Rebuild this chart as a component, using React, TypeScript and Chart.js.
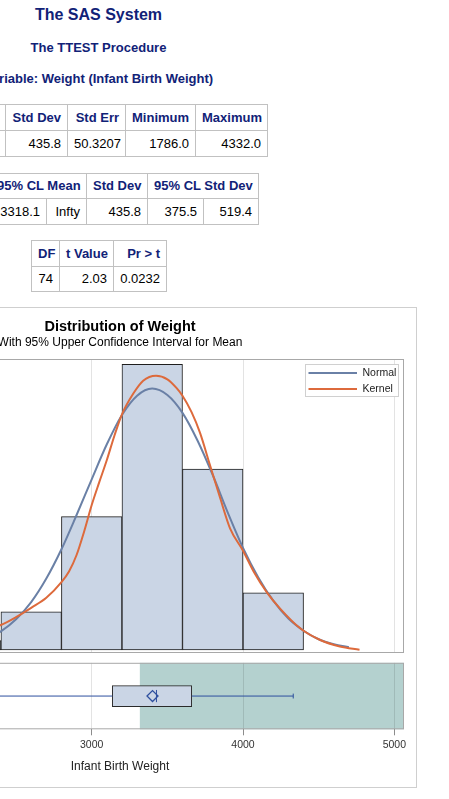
import React, { useEffect, useRef } from "react";
import { Chart, registerables } from "chart.js";

Chart.register(...registerables);

// ---------------- data ----------------
const BIN_MIDPOINTS = [1800, 2200, 2600, 3000, 3400, 3800, 4200];
const BIN_PERCENTS = [1.33, 1.33, 5.33, 18.67, 40.0, 25.33, 8.0];

const NORMAL_X = [2100, 2200, 2300, 2400, 2500, 2600, 2700, 2800, 2900, 3000, 3100, 3200, 3300, 3400, 3500, 3600, 3700, 3800, 3900, 4000, 4100, 4200, 4300, 4400, 4500, 4600, 4700];
const NORMAL_Y = [0.42, 0.82, 1.5, 2.6, 4.3, 6.7, 10.0, 14.1, 18.9, 23.9, 28.8, 32.9, 35.6, 36.6, 35.7, 33.2, 29.3, 24.5, 19.2, 14.3, 10.2, 6.9, 4.4, 2.7, 1.5, 0.8, 0.4];

const KERNEL_X = [1600, 1800, 2000, 2200, 2300, 2400, 2500, 2600, 2700, 2800, 2850, 2900, 2950, 3000, 3050, 3100, 3150, 3200, 3275, 3340, 3425, 3500, 3560, 3600, 3660, 3716, 3780, 3850, 3915, 4000, 4070, 4160, 4245, 4380, 4510, 4640, 4770];
const KERNEL_Y = [0.3, 0.8, 1.5, 2.4, 2.9, 3.5, 4.6, 5.9, 7.3, 9.5, 11.0, 13.3, 16.6, 20.3, 23.5, 26.6, 30.0, 33.0, 35.9, 37.7, 38.4, 37.9, 36.7, 35.6, 33.3, 30.4, 26.0, 21.2, 17.0, 13.9, 11.0, 8.0, 5.8, 3.0, 1.4, 0.5, 0.05];

const BOX_MIN = 1786;
const BOX_Q1 = 3136;
const BOX_MEDIAN = 3428;
const BOX_Q3 = 3661;
const BOX_MAX = 4332;
const BOX_MEAN = 3401.9;
const CL_LOWER = 3318.1;

const X_MIN = 1310;
const X_MAX = 5064;
const X_TICKS = [2000, 3000, 4000, 5000];
const X_TICK_LABELS = ["2000", "3000", "4000", "5000"];
const Y_MIN = -0.42;
const Y_MAX = 40.74;

// tables
const T1_X = [-10, 5, 67, 125, 195, 267];
const T1_Y = [104, 130, 156];
const T1_HEAD = ["", "Std Dev", "Std Err", "Minimum", "Maximum"];
const T1_ROW = ["", "435.8", "50.3207", "1786.0", "4332.0"];

const T2_X = [-10, 46, 86, 147, 203, 258];
const T2_Y = [173, 198, 224];
const T2_HEAD = ["95% CL Mean", "Std Dev", "95% CL Std Dev"];
const T2_HEAD_SPAN = [2, 1, 2];
const T2_ROW = ["3318.1", "Infty", "435.8", "375.5", "519.4"];

const T3_X = [31, 59, 113, 166];
const T3_Y = [240, 266, 291];
const T3_HEAD = ["DF", "t Value", "Pr > t"];
const T3_ROW = ["74", "2.03", "0.0232"];

// ---------------- styles ----------------
const FONT = 'Arial, "Liberation Sans", Helvetica, sans-serif';
const TITLE_BLUE = "#112277";
const TABLE_BORDER = "#C1C1C1";
const BAR_FILL = "#CAD5E5";
const NORMAL_COLOR = "#6A80A6";
const KERNEL_COLOR = "#DD6A3C";
const WHISKER_BLUE = "#2D4F9E";
const TEAL = "#B4D1CF";
const PANEL_BORDER = "#A8A8A8";
const GRID = "rgba(0,0,0,0.11)";
const BOX_HALF = 0.275;
const CAP_HALF = 0.11;

const setTicks = (scale: any) => {
  scale.ticks = X_TICKS.map((v) => ({ value: v }));
};

const panelBorder = {
  id: "panelBorder",
  afterDraw(chart: any) {
    const { ctx, chartArea: a } = chart;
    ctx.save();
    ctx.strokeStyle = PANEL_BORDER;
    ctx.lineWidth = 1;
    ctx.strokeRect(a.left + 0.5, a.top + 0.5, a.right - a.left - 1, a.bottom - a.top - 1);
    ctx.restore();
  },
};

const legendBox = {
  id: "legendBox",
  afterDraw(chart: any) {
    const { ctx, chartArea: a } = chart;
    const items = chart.data.datasets.filter((d: any) => d.type === "line");
    const left = a.right - 99;
    const top = a.top + 5;
    ctx.save();
    ctx.fillStyle = "#FFFFFF";
    ctx.fillRect(left, top, 94, 33);
    ctx.strokeStyle = "#D0D0D0";
    ctx.lineWidth = 1;
    ctx.strokeRect(left + 0.5, top + 0.5, 93, 32);
    ctx.font = `10.5px ${FONT}`;
    ctx.textBaseline = "middle";
    ctx.textAlign = "left";
    items.forEach((d: any, i: number) => {
      const y = top + 9 + i * 16;
      ctx.strokeStyle = d.borderColor;
      ctx.lineWidth = 2;
      ctx.beginPath();
      ctx.moveTo(left + 3.5, y);
      ctx.lineTo(left + 52, y);
      ctx.stroke();
      ctx.fillStyle = "#222";
      ctx.fillText(d.label, left + 57.5, y + 0.5);
    });
    ctx.restore();
  },
};

const clBand = {
  id: "clBand",
  beforeDraw(chart: any) {
    const { ctx, chartArea: a, scales } = chart;
    const x0 = scales.x.getPixelForValue(CL_LOWER);
    ctx.save();
    ctx.fillStyle = TEAL;
    ctx.fillRect(x0, a.top, a.right - x0, a.bottom - a.top);
    ctx.restore();
  },
};

function Cell(props: { x1: number; x2: number; y1: number; y2: number; text: string; header?: boolean; align?: any }) {
  const { x1, x2, y1, y2, text, header, align } = props;
  return (
    <div
      style={{
        position: "absolute",
        left: x1,
        top: y1,
        width: x2 - x1 + 1,
        height: y2 - y1 + 1,
        boxSizing: "border-box",
        border: `1px solid ${TABLE_BORDER}`,
        fontFamily: FONT,
        fontSize: 13,
        fontWeight: header ? "bold" : "normal",
        color: header ? TITLE_BLUE : "#000",
        textAlign: align || "right",
        lineHeight: `${y2 - y1 - 1}px`,
        padding: "0 6px",
        whiteSpace: "nowrap",
        background: "#fff",
      }}
    >
      {text}
    </div>
  );
}

function SimpleTable(props: { xs: number[]; ys: number[]; head: string[]; row: string[] }) {
  const { xs, ys, head, row } = props;
  return (
    <>
      {head.map((t, i) => (
        <Cell key={"h" + i} x1={xs[i]} x2={xs[i + 1]} y1={ys[0]} y2={ys[1]} text={t} header />
      ))}
      {row.map((t, i) => (
        <Cell key={"r" + i} x1={xs[i]} x2={xs[i + 1]} y1={ys[1]} y2={ys[2]} text={t} />
      ))}
    </>
  );
}

function SpanTable() {
  let col = 0;
  const heads = T2_HEAD.map((t, i) => {
    const span = T2_HEAD_SPAN[i];
    const c = (
      <Cell key={"h" + i} x1={T2_X[col]} x2={T2_X[col + span]} y1={T2_Y[0]} y2={T2_Y[1]} text={t} header align={span > 1 ? "center" : "right"} />
    );
    col += span;
    return c;
  });
  return (
    <>
      {heads}
      {T2_ROW.map((t, i) => (
        <Cell key={"r" + i} x1={T2_X[i]} x2={T2_X[i + 1]} y1={T2_Y[1]} y2={T2_Y[2]} text={t} />
      ))}
    </>
  );
}

function Heading(props: { text: string; size: number; center: number; top: number; lh: number }) {
  return (
    <div
      style={{
        position: "absolute",
        left: props.center - 200,
        width: 400,
        top: props.top,
        textAlign: "center",
        fontFamily: FONT,
        fontWeight: "bold",
        fontSize: props.size,
        lineHeight: `${props.lh}px`,
        color: TITLE_BLUE,
        whiteSpace: "nowrap",
      }}
    >
      {props.text}
    </div>
  );
}

export default function App() {
  const topRef = useRef<HTMLCanvasElement>(null);
  const botRef = useRef<HTMLCanvasElement>(null);

  useEffect(() => {
    const topChart = new Chart(topRef.current as HTMLCanvasElement, {
      type: "line",
      data: {
        datasets: [
          {
            type: "line",
            label: "Normal",
            data: NORMAL_X.map((x, i) => ({ x, y: NORMAL_Y[i] })),
            borderColor: NORMAL_COLOR,
            borderWidth: 2,
            pointRadius: 0,
            cubicInterpolationMode: "monotone",
            order: 1,
          } as any,
          {
            type: "line",
            label: "Kernel",
            data: KERNEL_X.map((x, i) => ({ x, y: KERNEL_Y[i] })),
            borderColor: KERNEL_COLOR,
            borderWidth: 2,
            pointRadius: 0,
            cubicInterpolationMode: "monotone",
            order: 0,
          } as any,
          {
            type: "bar",
            label: "Percent",
            data: BIN_MIDPOINTS.map((x, i) => ({ x, y: BIN_PERCENTS[i] })),
            backgroundColor: BAR_FILL,
            borderColor: "#1E1E1E",
            borderWidth: 1,
            borderSkipped: false,
            barPercentage: 1,
            categoryPercentage: 1,
            order: 2,
          } as any,
        ],
      },
      options: {
        animation: false,
        responsive: false,
        layout: { padding: { left: 16, right: 13, top: 0, bottom: 3 } },
        plugins: {
          legend: { display: false },
          tooltip: { enabled: false },
          title: {
            display: true,
            text: "Distribution of Weight",
            color: "#000",
            font: { family: FONT, size: 14.5, weight: "bold" },
            padding: { top: 10, bottom: 0 },
          },
          subtitle: {
            display: true,
            text: "With 95% Upper Confidence Interval for Mean",
            color: "#000",
            font: { family: FONT, size: 12 },
            padding: { top: 0, bottom: 9.2 },
          },
        },
        scales: {
          x: {
            type: "linear",
            min: X_MIN,
            max: X_MAX,
            offset: false,
            afterBuildTicks: setTicks,
            ticks: { display: false },
            grid: { color: GRID, drawTicks: false, offset: false },
            border: { display: false },
          },
          y: { type: "linear", min: Y_MIN, max: Y_MAX, display: false },
        },
      } as any,
      plugins: [panelBorder, legendBox],
    });

    const lineDs = (label: string, pts: { x: number; y: number }[], order: number) =>
      ({
        type: "line",
        label,
        data: pts,
        borderColor: WHISKER_BLUE,
        borderWidth: 1,
        pointRadius: 0,
        order,
      } as any);

    const botChart = new Chart(botRef.current as HTMLCanvasElement, {
      type: "line",
      data: {
        datasets: [
          {
            type: "line",
            label: "Mean",
            data: [{ x: BOX_MEAN, y: 0 }],
            showLine: false,
            pointStyle: "rectRot",
            pointRadius: 5.5,
            borderColor: WHISKER_BLUE,
            borderWidth: 1.3,
            backgroundColor: "rgba(0,0,0,0)",
            order: 0,
          } as any,
          lineDs("Median", [{ x: BOX_MEDIAN, y: -BOX_HALF }, { x: BOX_MEDIAN, y: BOX_HALF }], 1),
          lineDs("Lower whisker", [{ x: BOX_MIN, y: 0 }, { x: BOX_Q1, y: 0 }], 2),
          lineDs("Upper whisker", [{ x: BOX_Q3, y: 0 }, { x: BOX_MAX, y: 0 }], 2),
          lineDs("Min cap", [{ x: BOX_MIN, y: -CAP_HALF }, { x: BOX_MIN, y: CAP_HALF }], 2),
          lineDs("Max cap", [{ x: BOX_MAX, y: -CAP_HALF }, { x: BOX_MAX, y: CAP_HALF }], 2),
          {
            type: "bar",
            label: "Box",
            indexAxis: "y",
            data: [{ x: [BOX_Q1, BOX_Q3], y: 0 }],
            barThickness: 21,
            backgroundColor: BAR_FILL,
            borderColor: "#2A2A2A",
            borderWidth: 1,
            borderSkipped: false,
            order: 5,
          } as any,
        ],
      },
      options: {
        animation: false,
        responsive: false,
        layout: { padding: { left: 16, right: 13, top: 2, bottom: 10.1 } },
        plugins: { legend: { display: false }, tooltip: { enabled: false } },
        scales: {
          x: {
            type: "linear",
            min: X_MIN,
            max: X_MAX,
            offset: false,
            afterBuildTicks: setTicks,
            ticks: {
              color: "#333",
              font: { family: FONT, size: 10.5 },
              padding: 3.7,
              callback: (_v: any, i: number) => X_TICK_LABELS[i],
            },
            grid: { color: GRID, drawTicks: true, tickLength: 6, tickColor: "#8C8C8C", offset: false },
            border: { display: false },
            title: {
              display: true,
              text: "Infant Birth Weight",
              color: "#222",
              font: { family: FONT, size: 12 },
              padding: { top: 4.2, bottom: 4 },
            },
          },
          y: { type: "linear", min: -1, max: 1, display: false },
        },
      } as any,
      plugins: [clBand, panelBorder],
    });

    return () => {
      topChart.destroy();
      botChart.destroy();
    };
  }, []);

  return (
    <div
      style={{
        position: "absolute",
        left: 0,
        top: 0,
        width: 449,
        height: 799,
        overflow: "hidden",
        background: "#fff",
      }}
    >
      <Heading text="The SAS System" size={16} center={98.5} top={5} lh={20} />
      <Heading text="The TTEST Procedure" size={13} center={98.5} top={40} lh={16} />
      <Heading text="Variable: Weight (Infant Birth Weight)" size={13} center={98.5} top={71} lh={16} />

      <SimpleTable xs={T1_X} ys={T1_Y} head={T1_HEAD} row={T1_ROW} />
      <SpanTable />
      <SimpleTable xs={T3_X} ys={T3_Y} head={T3_HEAD} row={T3_ROW} />

      <div
        style={{
          position: "absolute",
          left: -200,
          top: 307,
          width: 617,
          height: 481,
          boxSizing: "border-box",
          border: "1px solid #CFCFCF",
        }}
      />
      <canvas
        ref={topRef}
        width={597}
        height={348}
        style={{ position: "absolute", left: -180, top: 308, width: 597, height: 348, display: "block" }}
      />
      <canvas
        ref={botRef}
        width={597}
        height={132}
        style={{ position: "absolute", left: -180, top: 656, width: 597, height: 132, display: "block" }}
      />
    </div>
  );
}
